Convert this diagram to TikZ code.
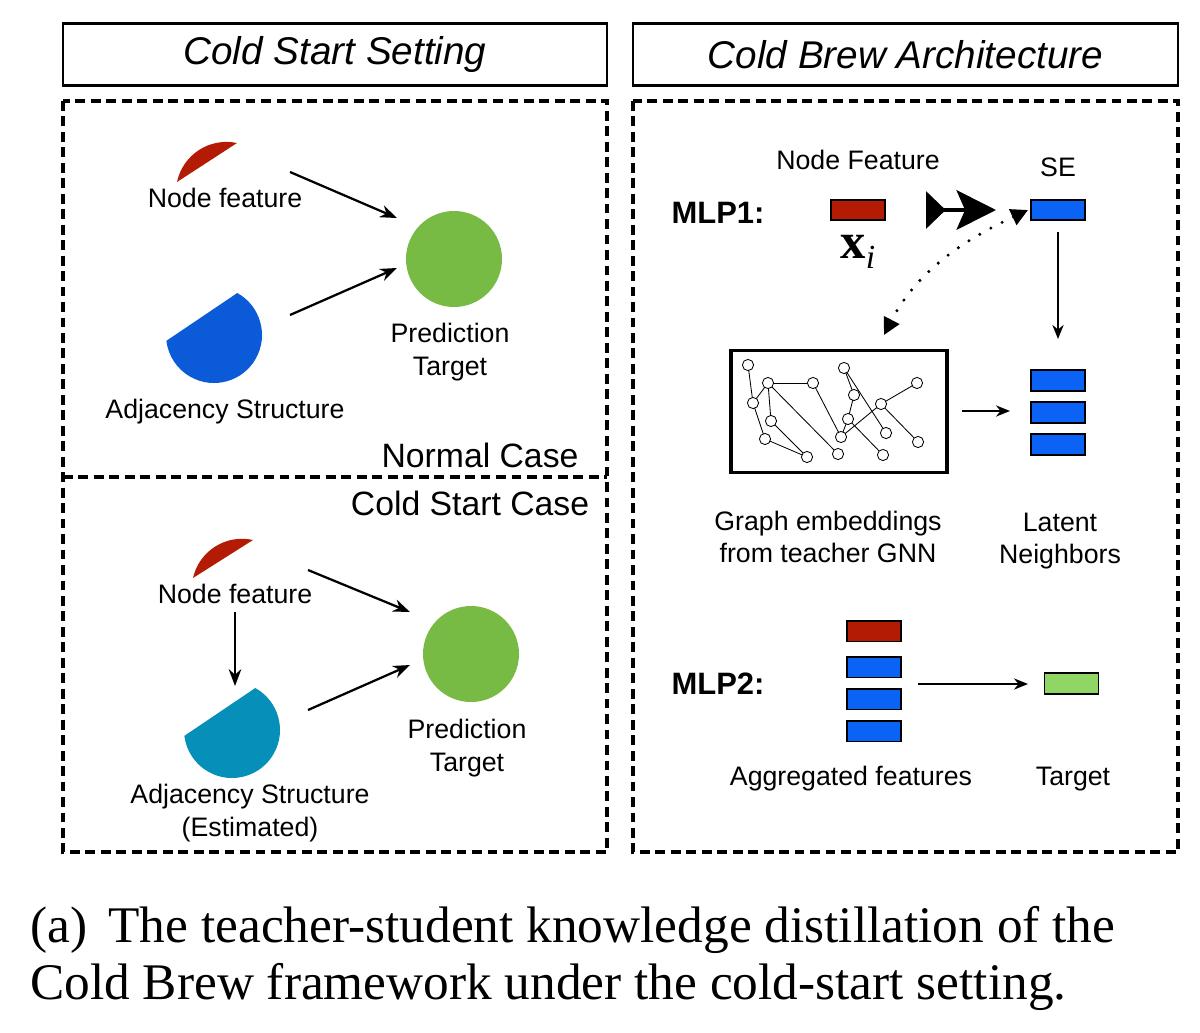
\documentclass[tikz,border=0pt]{standalone}
\usepackage{fontspec}
\setmainfont{Liberation Sans}
\newfontfamily\capfont{Liberation Serif}
\usetikzlibrary{arrows.meta}
\definecolor{fred}{HTML}{B31B05}
\definecolor{fblue}{HTML}{0B5BD9}
\definecolor{fcyan}{HTML}{068FB8}
\definecolor{fgreen}{HTML}{78BB44}
\definecolor{rblue}{HTML}{0A63F5}
\definecolor{rgreen}{HTML}{8FD665}
\tikzset{
 x=0.025cm,y=-0.025cm,
 lbl/.style={font=\fontsize{19}{23}\selectfont,align=center,inner sep=0},
 big/.style={font=\fontsize{24}{27}\selectfont,inner sep=0},
 ttl/.style={draw,line width=1.5pt,font=\fontsize{27.5}{30}\selectfont\itshape,minimum width=13.6cm,minimum height=1.55cm,inner sep=0},
 panel/.style={line width=2.6pt,dash pattern=on 7pt off 4pt},
 arr/.style={-{Stealth[length=12pt,width=9pt]},line width=1.6pt},
 sarr/.style={-{Stealth[length=10pt,width=8pt]},line width=1.3pt},
 bar/.style={draw=black,line width=1.3pt,minimum width=1.35cm,minimum height=0.52cm,inner sep=0},
 gn/.style={circle,draw,line width=0.6pt,fill=white,minimum size=0.28cm,inner sep=0},
 ge/.style={line width=0.6pt},
}
\begin{document}
\begin{tikzpicture}
\useasboundingbox (0,0) rectangle (1200,1032);
% titles
\node[ttl] (t1) at (335,54.5) {Cold Start Setting};
\node[ttl] (t2) at (905.5,54.5) {Cold Brew Architecture};
% panels
\draw[panel] (63,101) rectangle (607,852);
\draw[panel] (63,477) -- (607,477);
\draw[panel] (633,101) rectangle (1178,852);
% ---- normal case
\fill[fred] (177,182) to[bend left=45] (237,143) -- cycle;
\fill[fblue] (214,335) ++(-61:48) arc[start angle=-61,end angle=173,radius=48] -- cycle;
\fill[fgreen] (454,259) circle[radius=48];
\coordinate (nf1s) at (290,172); \coordinate (nf1e) at (397,218);
\coordinate (as1s) at (290,315); \coordinate (as1e) at (397,268);
\draw[arr] (nf1s) -- (nf1e);
\draw[arr] (as1s) -- (as1e);
\node[lbl] (l1) at (225,198) {Node feature};
\node[lbl] (l2) at (225,412) {Adjacency Structure};
\node[lbl] (l3) at (450,352) {Prediction\\Target};
\node[big] (l4) at (480,455) {Normal Case};
\node[big] (l5) at (470,503) {Cold Start Case};
% ---- cold start case
\fill[fred] (193,578) to[bend left=45] (253,540) -- cycle;
\fill[fcyan] (232,730) ++(-61:48) arc[start angle=-61,end angle=173,radius=48] -- cycle;
\fill[fgreen] (471,654) circle[radius=48];
\node[lbl] (l6) at (235,594) {Node feature};
\node[lbl] (l7) at (250,813) {Adjacency Structure\\(Estimated)};
\node[lbl] (l8) at (467,748) {Prediction\\Target};
\coordinate (a1) at (308,570); \coordinate (a2) at (410,612);
\coordinate (a3) at (308,710); \coordinate (a4) at (410,665);
\coordinate (a5s) at (235,612); \coordinate (a5) at (235,686);
\draw[arr] (a1) -- (a2);
\draw[arr] (a3) -- (a4);
\draw[arr] (a5s) -- (a5);
% ---- right panel
\node[lbl] (nfr) at (858,160) {Node Feature};
\node[lbl] (se) at (1058,167) {SE};
\node[lbl,font=\fontsize{22}{24}\selectfont\bfseries] (mlp1) at (718,213) {MLP1:};
\node[bar,fill=fred] (xr) at (858,210) {};
\node[inner sep=0] (xi) at (858,252) {{\capfont\bfseries\fontsize{36}{38}\selectfont x}\raisebox{-7pt}{\capfont\itshape\fontsize{24}{26}\selectfont i}};
\node[bar,fill=rblue] (seb) at (1058,210) {};
\coordinate (th1) at (926,210); \coordinate (th2) at (996,210);
\draw[line width=3.5pt,{Triangle[reversed,length=14pt,width=26pt]}-{Stealth[length=28pt,width=28pt,inset=6pt]}] (th1) -- (th2);
\coordinate (d1) at (1028,210); \coordinate (d2) at (884,335);
\draw[line width=2.4pt,dash pattern=on 0pt off 9pt,line cap=round,{Triangle[length=12pt,width=12pt]}-{Triangle[length=12pt,width=12pt]}] (d1) .. controls (975,235) and (920,265) .. (d2);
\node[draw,line width=2.2pt,minimum width=5.4cm,minimum height=3.07cm,inner sep=0] (gbox) at (839,411.5) {};
\foreach \n/\px/\py in {1/748/365,2/768/383,3/813/383,4/753/403,5/771/421,6/765/439,7/807/457,8/838/454,9/844/368,10/854/395,11/848/419,12/841/437,13/881/404,14/917/383,15/886/433,16/918/442,17/883/455}
  \coordinate (c\n) at (\px,\py);
\foreach \a/\b in {1/4,4/2,2/3,2/5,4/6,6/7,5/7,2/8,3/12,12/11,11/10,10/9,9/15,12/13,13/14,13/16,11/17}
  \draw[ge] (c\a) -- (c\b);
\foreach \n in {1,...,17} \node[gn] (g\n) at (c\n) {};
\node[bar,fill=rblue] (ln1) at (1058,380.5) {};
\node[bar,fill=rblue] (ln2) at (1058,412.5) {};
\node[bar,fill=rblue] (ln3) at (1058,444.5) {};
\coordinate (sd1) at (1058,232); \coordinate (sd2) at (1058,339);
\draw[sarr] (sd1) -- (sd2);
\coordinate (g1s) at (962,411); \coordinate (g1e) at (1010,411);
\draw[sarr] (g1s) -- (g1e);
\node[lbl] (ge) at (828,537) {Graph embeddings\\from teacher GNN};
\node[lbl] (lnl) at (1060,541) {Latent\\Neighbors};
\node[lbl,font=\fontsize{22}{24}\selectfont\bfseries] (mlp2) at (718,684) {MLP2:};
\node[bar,fill=fred] (s1) at (874,631) {};
\node[bar,fill=rblue] (s2) at (874,667) {};
\node[bar,fill=rblue] (s3) at (874,699) {};
\node[bar,fill=rblue] (s4) at (874,731) {};
\node[bar,fill=rgreen] (tg) at (1071.5,683.5) {};
\coordinate (m2s) at (918,684); \coordinate (m2e) at (1028,684);
\draw[sarr] (m2s) -- (m2e);
\node[lbl] (agg) at (851,779) {Aggregated features};
\node[lbl] (tgl) at (1073,779) {Target};
% caption
\node[anchor=west,inner sep=0,font=\capfont\fontsize{36.5}{40}\selectfont] (cap1) at (30,930) {(a)\, The teacher-student knowledge distillation of the};
\node[anchor=west,inner sep=0,font=\capfont\fontsize{36.5}{40}\selectfont] (cap2) at (30,987) {Cold Brew framework under the cold-start setting.};
\end{tikzpicture}
\end{document}
